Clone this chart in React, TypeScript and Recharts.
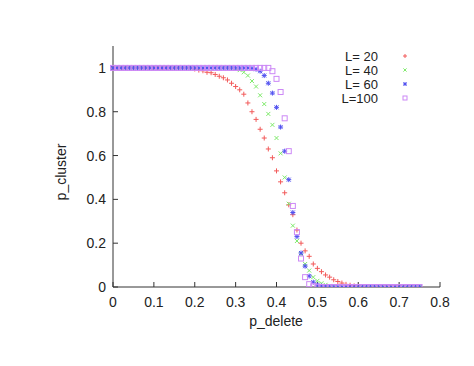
import { ScatterChart, Scatter, XAxis, YAxis } from "recharts"

// x positions of the samples (p_delete)
const pDelete = [
  0, 0.01, 0.02, 0.03, 0.04, 0.05, 0.06, 0.07, 0.08, 0.09,
  0.1, 0.11, 0.12, 0.13, 0.14, 0.15, 0.16, 0.17, 0.18, 0.19,
  0.2, 0.21, 0.22, 0.23, 0.24, 0.25, 0.26, 0.27, 0.28, 0.29,
  0.3, 0.31, 0.32, 0.33, 0.34, 0.35, 0.36, 0.37, 0.38, 0.39,
  0.4, 0.41, 0.42, 0.43, 0.44, 0.45, 0.46, 0.47, 0.48, 0.49,
  0.5, 0.51, 0.52, 0.53, 0.54, 0.55, 0.56, 0.57, 0.58, 0.59,
  0.6, 0.61, 0.62, 0.63, 0.64, 0.65, 0.66, 0.67, 0.68, 0.69,
  0.7, 0.71, 0.72, 0.73, 0.74, 0.75,
]

const l20 = [
  1, 1, 1, 1, 1, 1, 1, 1, 1, 1,
  1, 1, 1, 1, 1, 1, 1, 1, 1, 1,
  0.995, 0.99, 0.987, 0.98, 0.978, 0.97, 0.962, 0.955, 0.945, 0.93,
  0.915, 0.9, 0.88, 0.84, 0.8, 0.765, 0.72, 0.68, 0.63, 0.59,
  0.53, 0.48, 0.43, 0.375, 0.33, 0.26, 0.2, 0.165, 0.14, 0.105,
  0.085, 0.07, 0.055, 0.045, 0.033, 0.025, 0.018, 0.012, 0.008, 0.005,
  0.003, 0.002, 0.001, 0, 0, 0, 0, 0, 0, 0,
  0, 0, 0, 0, 0, 0,
]

const l40 = [
  1, 1, 1, 1, 1, 1, 1, 1, 1, 1,
  1, 1, 1, 1, 1, 1, 1, 1, 1, 1,
  1, 1, 1, 1, 1, 1, 1, 1, 1, 1,
  0.997, 0.99, 0.98, 0.965, 0.94, 0.915, 0.875, 0.835, 0.79, 0.74,
  0.68, 0.61, 0.5, 0.38, 0.28, 0.21, 0.15, 0.105, 0.075, 0.045,
  0.028, 0.017, 0.01, 0.005, 0.002, 0.001, 0, 0, 0, 0,
  0, 0, 0, 0, 0, 0, 0, 0, 0, 0,
  0, 0, 0, 0, 0, 0,
]

const l60 = [
  1, 1, 1, 1, 1, 1, 1, 1, 1, 1,
  1, 1, 1, 1, 1, 1, 1, 1, 1, 1,
  1, 1, 1, 1, 1, 1, 1, 1, 1, 1,
  1, 1, 1, 1, 0.998, 0.994, 0.985, 0.965, 0.93, 0.885,
  0.82, 0.73, 0.62, 0.49, 0.34, 0.23, 0.155, 0.095, 0.05, 0.022,
  0.009, 0.004, 0.001, 0, 0, 0, 0, 0, 0, 0,
  0, 0, 0, 0, 0, 0, 0, 0, 0, 0,
  0, 0, 0, 0, 0, 0,
]

const l100 = [
  1, 1, 1, 1, 1, 1, 1, 1, 1, 1,
  1, 1, 1, 1, 1, 1, 1, 1, 1, 1,
  1, 1, 1, 1, 1, 1, 1, 1, 1, 1,
  1, 1, 1, 1, 1, 1, 1, 1, 1, 0.985,
  0.95, 0.89, 0.77, 0.62, 0.37, 0.25, 0.13, 0.045, 0.013, 0.004,
  0.001, 0, 0, 0, 0, 0, 0, 0, 0, 0,
  0, 0, 0, 0, 0, 0, 0, 0, 0, 0,
  0, 0, 0, 0, 0, 0,
]

const xTicks = [0, 0.1, 0.2, 0.3, 0.4, 0.5, 0.6, 0.7, 0.8]
const yTicks = [0, 0.2, 0.4, 0.6, 0.8, 1]

const series = [
  { name: "L= 20", values: l20, color: "#f25a5a", kind: "plus" },
  { name: "L= 40", values: l40, color: "#7eea6a", kind: "cross" },
  { name: "L= 60", values: l60, color: "#5252f0", kind: "star" },
  { name: "L=100", values: l100, color: "#cc88f6", kind: "square" },
]

const FONT = "'Liberation Sans', Arial, sans-serif"
const AXIS = "#333"

function Marker({ cx, cy, kind, color, s = 1 }: any) {
  if (cx == null || cy == null) return null
  const r = 2.5 * s
  const d = 2 * s
  if (kind === "plus") {
    return (
      <g stroke={color} strokeWidth={1}>
        <line x1={cx - r} y1={cy} x2={cx + r} y2={cy} />
        <line x1={cx} y1={cy - r} x2={cx} y2={cy + r} />
      </g>
    )
  }
  if (kind === "cross") {
    return (
      <g stroke={color} strokeWidth={1}>
        <line x1={cx - d} y1={cy - d} x2={cx + d} y2={cy + d} />
        <line x1={cx - d} y1={cy + d} x2={cx + d} y2={cy - d} />
      </g>
    )
  }
  if (kind === "star") {
    return (
      <g stroke={color} strokeWidth={1}>
        <line x1={cx - r} y1={cy} x2={cx + r} y2={cy} />
        <line x1={cx} y1={cy - r} x2={cx} y2={cy + r} />
        <line x1={cx - d} y1={cy - d} x2={cx + d} y2={cy + d} />
        <line x1={cx - d} y1={cy + d} x2={cx + d} y2={cy - d} />
      </g>
    )
  }
  return <rect x={cx - r} y={cy - r} width={2 * r} height={2 * r} fill="none" stroke={color} strokeWidth={1} />
}

export default function App() {
  const blank = () => ""
  return (
    <div
      style={{
        position: "absolute",
        left: 0,
        top: 0,
        width: 474,
        height: 366,
        background: "#fff",
        fontFamily: FONT,
      }}
    >
      <ScatterChart width={474} height={366} margin={{ top: 46, right: 34, bottom: 49, left: 53 }}>
        <XAxis
          xAxisId="x"
          type="number"
          dataKey="p"
          domain={[0, 0.8]}
          ticks={xTicks}
          tickSize={-5}
          tickMargin={15}
          height={30}
          stroke={AXIS}
          tick={{ fill: "#222", fontSize: 14, fontFamily: FONT }}
        />
        <XAxis
          xAxisId="xTop"
          orientation="top"
          type="number"
          domain={[0, 0.8]}
          ticks={xTicks}
          tickSize={-5}
          height={0}
          stroke={AXIS}
          tickFormatter={blank}
        />
        <YAxis
          yAxisId="y"
          type="number"
          dataKey="v"
          domain={[0, 1.1]}
          ticks={yTicks}
          tickSize={-5}
          tickMargin={12}
          width={60}
          stroke={AXIS}
          allowDataOverflow
          tick={{ fill: "#222", fontSize: 14, fontFamily: FONT }}
        />
        <YAxis
          yAxisId="yRight"
          orientation="right"
          type="number"
          domain={[0, 1.1]}
          ticks={yTicks}
          tickSize={-5}
          width={0}
          stroke={AXIS}
          tickFormatter={blank}
        />
        {series.map((s) => (
          <Scatter
            key={s.name}
            name={s.name}
            xAxisId="x"
            yAxisId="y"
            data={pDelete.map((p, i) => ({ p, v: s.values[i] }))}
            isAnimationActive={false}
            shape={(props: any) => <Marker cx={props.cx} cy={props.cy} kind={s.kind} color={s.color} />}
          />
        ))}
      </ScatterChart>

      {/* legend, gnuplot style: right-aligned text, sample to the right */}
      <div style={{ position: "absolute", left: 300, top: 49, width: 120 }}>
        {series.map((s) => (
          <div key={s.name} style={{ display: "flex", alignItems: "center", height: 14 }}>
            <span style={{ width: 78, textAlign: "right", fontSize: 13, color: "#222", lineHeight: "13px" }}>
              {s.name}
            </span>
            <svg width={40} height={14}>
              <Marker cx={27} cy={7} kind={s.kind} color={s.color} s={0.8} />
            </svg>
          </div>
        ))}
      </div>

      <div
        style={{
          position: "absolute",
          left: 276,
          top: 321,
          transform: "translate(-50%, -50%)",
          fontSize: 14,
          color: "#222",
          whiteSpace: "nowrap",
        }}
      >
        p_delete
      </div>
      <div
        style={{
          position: "absolute",
          left: 61,
          top: 172,
          transform: "translate(-50%, -50%) rotate(-90deg)",
          fontSize: 14,
          color: "#222",
          whiteSpace: "nowrap",
        }}
      >
        p_cluster
      </div>
    </div>
  )
}
